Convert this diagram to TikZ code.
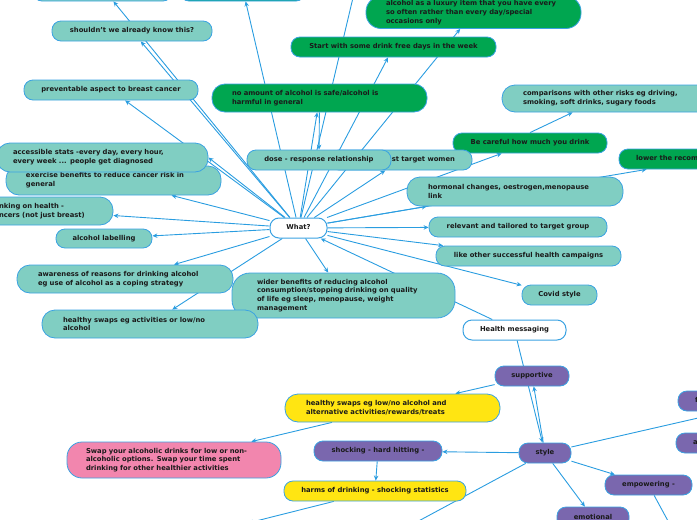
\documentclass[tikz,border=0pt]{standalone}
\usepackage{fontspec}
\setmainfont{DejaVu Sans}
\usetikzlibrary{arrows.meta,calc}
\pgfdeclarelayer{edges}
\pgfsetlayers{edges,main}
\definecolor{tealc}{HTML}{80CEC2}
\definecolor{darkteal}{HTML}{12A89D}
\definecolor{greenc}{HTML}{00A650}
\definecolor{purplec}{HTML}{7A67AE}
\definecolor{yellowc}{HTML}{FFE512}
\definecolor{pinkc}{HTML}{F286AE}
\definecolor{bordc}{HTML}{3AA2E2}
\definecolor{edgec}{HTML}{2A9DE0}
\definecolor{txtc}{HTML}{1A1A1A}
\tikzset{
  base/.style={draw=bordc, line width=0.8pt, inner sep=0pt, font=\fontsize{6.8}{8.8}\selectfont\bfseries, text=txtc},
  sl/.style n args={2}{base, rounded corners=9pt, minimum width=#1, minimum height=#2, text height=5.2pt, text depth=1.4pt, align=center},
  ml/.style n args={3}{base, rounded corners=13pt, text width=#1, inner xsep=#2, minimum height=#3, align=left},
  conn/.style={draw=edgec, line width=0.9pt, -{Stealth[length=5pt,width=4.5pt]}},
  plain/.style={draw=edgec, line width=0.9pt}
}
\begin{document}
\begin{tikzpicture}[x=1pt,y=-1pt]
\useasboundingbox (0,0) rectangle (697,520);
% ---------- nodes ----------
\node[sl={139pt}{26pt}, fill=tealc] (topleft) at (102.5,-12) {};
\node[sl={125pt}{26pt}, fill=darkteal] (topmid) at (242.5,-12) {};
\node[ml={175pt}{20pt}{32pt}, rounded corners=15pt, fill=greenc] (luxury) at (473.5,12.5) {alcohol as a luxury item that you have every\\so often rather than every day/special\\occasions only};
\node[sl={205pt}{20pt}, fill=greenc] (start) at (393.5,47) {Start with some drink free days in the week};
\node[sl={160pt}{20pt}, fill=tealc] (shouldnt) at (132,31) {shouldn't we already know this?};
\node[sl={174pt}{20pt}, fill=tealc] (prevent) at (111,90) {preventable aspect to breast cancer};
\node[ml={175pt}{20pt}{28pt}, fill=greenc] (noamount) at (319.5,98) {no amount of alcohol is safe/alcohol is\\harmful in general};
\node[ml={196pt}{21pt}{27pt}, fill=tealc] (comparisons) at (621,98.5) {comparisons with other risks eg driving,\\smoking, soft drinks, sugary foods};
\node[sl={154pt}{20pt}, fill=greenc] (becareful) at (530,143) {Be careful how much you drink};
\node[base, rounded corners=9pt, text width=107pt, inner xsep=17pt, minimum height=20pt, text height=5.2pt, text depth=1.4pt, align=left, fill=greenc] (lower) at (689.5,159) {lower the recom};
\node[base, rounded corners=9pt, text width=108pt, inner xsep=17pt, minimum height=20pt, text height=5.2pt, text depth=1.4pt, align=right, fill=tealc] (women) at (401,160) {st target women};
\node[sl={144pt}{20pt}, fill=tealc] (dose) at (319,160) {dose - response relationship};
\node[ml={175pt}{20pt}{29pt}, fill=tealc] (exercise) at (113.5,180.5) {exercise benefits to reduce cancer risk in\\general};
\node[ml={179pt}{16pt}{29pt}, fill=tealc] (access) at (102.5,157.5) {accessible stats -every day, every hour,\\every week ... people get diagnosed};
\node[ml={95pt}{19pt}{28pt}, fill=tealc] (drinking) at (46.5,211) {nking on health -\\ncers (not just breast)};
\node[sl={96pt}{19pt}, fill=tealc] (labelling) at (104,238.5) {alcohol labelling};
\node[ml={173pt}{25pt}{45pt}, rounded corners=18pt, fill=tealc] (wider) at (343.5,295.5) {wider benefits of reducing alcohol\\consumption/stopping drinking on quality\\of life eg sleep, menopause, weight\\management};
\node[ml={174pt}{21pt}{28pt}, fill=tealc] (awareness) at (125,279) {awareness of reasons for drinking alcohol\\eg use of alcohol as a coping strategy};
\node[ml={174pt}{21pt}{28pt}, fill=tealc] (healthyA) at (150,324) {healthy swaps eg activities or low/no\\alcohol};
\node[sl={57pt}{20pt}, fill=white, line width=1pt] (what) at (298.5,228) {What?};
\node[ml={174pt}{21pt}{29pt}, fill=tealc] (hormonal) at (515,191.5) {hormonal changes, oestrogen,menopause\\link};
\node[sl={178pt}{20pt}, fill=tealc] (relevant) at (518,227) {relevant and tailored to target group};
\node[sl={185pt}{20pt}, fill=tealc] (likeother) at (528.5,256) {like other successful health campaigns};
\node[sl={75pt}{20pt}, fill=tealc] (covid) at (559.5,295) {Covid style};
\node[sl={103pt}{20pt}, fill=white, line width=1pt] (health) at (514.5,330) {Health messaging};
\node[sl={74pt}{20pt}, fill=purplec] (supportive) at (532,376) {supportive};
\node[ml={173pt}{21pt}{28pt}, fill=yellowc] (yellowswaps) at (392.5,408) {healthy swaps eg low/no alcohol and\\alternative activities/rewards/treats};
\node[ml={176pt}{19pt}{36pt}, rounded corners=15pt, fill=pinkc] (pink) at (174,460) {Swap your alcoholic drinks for low or non-\\alcoholic options. Swap your time spent\\drinking for other healthier activities};
\node[sl={128pt}{20pt}, fill=purplec] (shocking) at (378,451) {shocking - hard hitting -};
\node[sl={182pt}{20pt}, fill=yellowc] (harms) at (375,491) {harms of drinking - shocking statistics};
\node[sl={52pt}{20pt}, fill=purplec] (style) at (545,453) {style};
\node[sl={87pt}{20pt}, fill=purplec] (empowering) at (648.5,485) {empowering -};
\node[sl={72pt}{21pt}, fill=purplec] (emotional) at (593,517.5) {emotional};
\node[base, rounded corners=9pt, text width=28pt, inner xsep=17pt, minimum height=20pt, text height=5.2pt, text depth=1.4pt, align=left, fill=purplec] (rpa) at (709,401) {f};
\node[base, rounded corners=9pt, text width=30pt, inner xsep=17pt, minimum height=20pt, text height=5.2pt, text depth=1.4pt, align=left, fill=purplec] (rpb) at (708,443) {a};
\coordinate (offtop) at (356,-15);
\coordinate (hb) at (248,523);
\coordinate (sb) at (400,531);
\coordinate (eb) at (674,532);
\coordinate (sr) at (720,413);
% ---------- connectors ----------
\begin{pgfonlayer}{edges}
\draw[conn] (what) -- (topleft);
\draw[conn] (what) -- (topmid);
\draw[conn] (what) -- (shouldnt);
\draw[conn] (what) -- (prevent);
\draw[conn] (what) -- (access.east);
\draw[conn] (what) -- (exercise);
\draw[conn] (what) -- (drinking);
\draw[conn] (what) -- (labelling);
\draw[conn] (what) -- (awareness);
\draw[conn] (what) -- (healthyA);
\draw[conn] (what) -- (wider);
\draw[conn] (health) -- (what);
\draw[conn] (what) -- (covid);
\draw[conn] (what) -- (likeother);
\draw[conn] (what) -- (relevant);
\draw[conn] (what) -- (hormonal);
\draw[conn] (what) -- ($(lower.south west)+(28,0)$);
\draw[conn] (what) -- (women);
\draw[conn] (what) -- (becareful);
\draw[conn] (becareful.north) -- ($(comparisons.south west)+(71,0)$);
\draw[conn] (what) -- (start);
\draw[conn] (what) -- (luxury);
\draw[plain] (what) -- (offtop);
\draw[conn] (what) -- (noamount);
\draw[conn] (noamount) -- (dose);
\draw[conn] (health) -- (style);
\draw[conn] (style) -- (supportive);
\draw[conn] (supportive) -- (yellowswaps);
\draw[conn] (yellowswaps) -- (pink);
\draw[conn] (style) -- (shocking);
\draw[conn] (shocking) -- (harms);
\draw[conn] (harms) -- (hb);
\draw[conn] (style) -- (sb);
\draw[conn] (style) -- (emotional);
\draw[conn] (style) -- (empowering);
\draw[conn] (empowering) -- (eb);
\draw[conn] (style) -- (sr);
\end{pgfonlayer}
\end{tikzpicture}
\end{document}
